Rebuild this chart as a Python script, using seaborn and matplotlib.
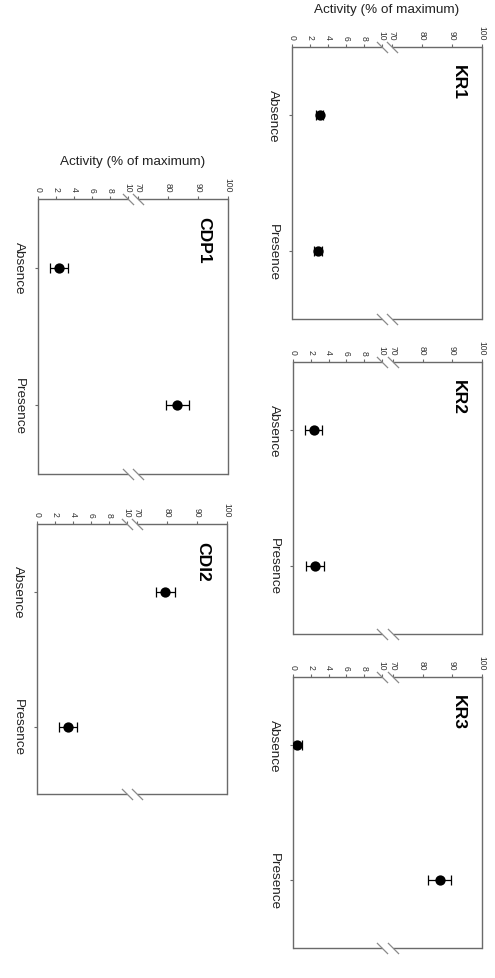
import numpy as np
import pandas as pd
import matplotlib
matplotlib.use("Agg")
import matplotlib.pyplot as plt
import matplotlib.transforms as mtransforms
import seaborn as sns

# ---- data ----
panels = ["KR1", "KR2", "KR3", "CDP1", "CDI2"]
conditions = ["Absence", "Presence"]
kr1_mean = [3.1, 2.9]
kr1_err = [0.4, 0.4]
kr2_mean = [2.3, 2.5]
kr2_err = [1.0, 1.0]
kr3_mean = [0.5, 85.8]
kr3_err = [0.5, 3.9]
cdp1_mean = [2.3, 83.0]
cdp1_err = [1.0, 3.8]
cdi2_mean = [79.4, 3.5]
cdi2_err = [3.1, 1.0]
xticks = [0, 2, 4, 6, 8, 10, 70, 80, 90, 100]
axis_label = "Activity (% of maximum)"

means = [kr1_mean, kr2_mean, kr3_mean, cdp1_mean, cdi2_mean]
errs = [kr1_err, kr2_err, kr3_err, cdp1_err, cdi2_err]

sns.set_style("white")
plt.rcParams["font.family"] = ["Liberation Sans", "DejaVu Sans"]

W, H = 495, 979
fig = plt.figure(figsize=(W / 100, H / 100), dpi=100)

# panel boxes in pixel coords (x0, x1, y0_top, y1_bottom)
boxes = {
    "KR1": (292, 482, 48, 320),
    "KR2": (293, 482, 363, 635),
    "KR3": (293, 482, 678, 949),
    "CDP1": (38, 228, 200, 475),
    "CDI2": (37, 227, 525, 795),
}
show_label = {"KR1": True, "KR2": False, "KR3": False, "CDP1": True, "CDI2": False}

G = 1.2
def fwd(v):
    v = np.asarray(v, float)
    return np.where(v <= 10, v, np.where(v >= 70, 10 + G + (v - 70) / 3.0,
                                         10 + (v - 10) * G / 60.0))

def inv(u):
    u = np.asarray(u, float)
    return np.where(u <= 10, u, np.where(u >= 10 + G, 70 + (u - 10 - G) * 3.0,
                                         10 + (u - 10) * 60.0 / G))

spine_c = "#6a6a6a"
slash = [(-1, 1), (1, -1)]

for name, m, e in zip(panels, means, errs):
    x0, x1, yt, yb = boxes[name]
    ax = fig.add_axes([x0 / W, 1 - yb / H, (x1 - x0) / W, (yb - yt) / H])
    ax.set_xscale("function", functions=(fwd, inv))
    df = pd.DataFrame({"cond": conditions, "pos": [0, 1], "val": m, "err": e})
    ax.errorbar(df["val"], df["pos"], xerr=df["err"], fmt="none", ecolor="black",
                elinewidth=0.9, capsize=3.6, capthick=0.9, zorder=2)
    sns.scatterplot(data=df, x="val", y="pos", ax=ax, color="black", s=55,
                    edgecolor="black", linewidth=0, zorder=3, legend=False)
    ax.set_xlim(0, 100)
    ax.set_ylim(1.5, -0.5)
    ax.set_xlabel("")
    ax.set_ylabel("")

    # ticks
    ax.xaxis.tick_top()
    ax.set_xticks(xticks)
    ax.set_xticklabels([str(t) for t in xticks], rotation=-90, fontsize=6.2,
                       color="#333333")
    ax.xaxis.set_minor_locator(matplotlib.ticker.NullLocator())
    ax.tick_params(axis="x", which="major", direction="out", length=2.5, width=0.8,
                   color=spine_c, pad=3, top=True, bottom=False)
    ax.set_yticks([0, 1])
    ax.set_yticklabels(conditions, rotation=-90, fontsize=9.7, color="#222222",
                       va="center", ha="right")
    ax.tick_params(axis="y", direction="out", length=2.5, width=0.8, color=spine_c,
                   pad=7, left=True, right=False)

    for s in ["left", "right"]:
        ax.spines[s].set_color(spine_c)
        ax.spines[s].set_linewidth(1.0)
    ax.spines["top"].set_visible(False)
    ax.spines["bottom"].set_visible(False)

    tr = mtransforms.blended_transform_factory(ax.transData, ax.transAxes)
    for yy in (0, 1):
        for seg in ([0, 10], [70, 100]):
            ax.plot(seg, [yy, yy], transform=tr, color=spine_c, lw=1.0,
                    clip_on=False, zorder=1, solid_capstyle="butt")
        ax.plot([10, 70], [yy, yy], transform=tr, linestyle="none",
                marker=slash, markersize=8, markeredgecolor="#8a8a8a",
                markeredgewidth=0.9, clip_on=False, zorder=1)

    # panel title
    ax.text(0.875, 1 - 17 / (yb - yt), name, transform=ax.transAxes,
            rotation=-90, ha="center", va="top", fontsize=12.6,
            fontweight="bold", color="black")

    if show_label[name]:
        ax.annotate(axis_label, xy=(0.5, 1), xycoords="axes fraction",
                    xytext=(0, 38), textcoords="offset pixels",
                    ha="center", va="center", fontsize=9.7, color="#222222")

fig.savefig("out.png", dpi=100)
